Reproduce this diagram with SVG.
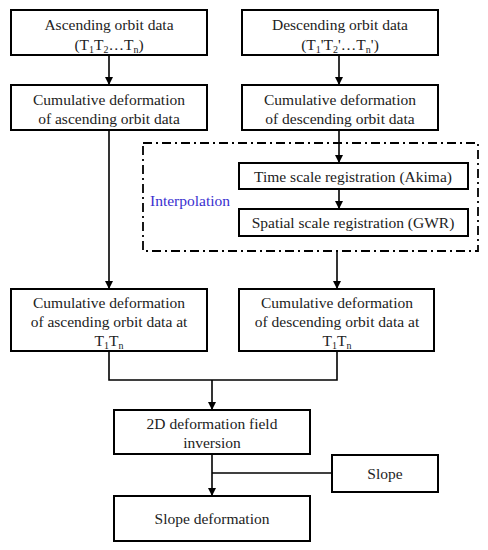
<svg xmlns="http://www.w3.org/2000/svg" width="488" height="550" viewBox="0 0 488 550">
<style>
.box{fill:#fff;stroke:#000;stroke-width:2}
.t{font-family:'Liberation Serif','Times New Roman','DejaVu Serif',serif;font-size:15.5px;fill:#222;text-anchor:middle}
.s{font-size:10px}
.ln{fill:none;stroke:#000;stroke-width:1.6}
</style>
<defs>
<marker id="ah" markerWidth="8" markerHeight="8" refX="7" refY="4" orient="auto" markerUnits="userSpaceOnUse">
<path d="M0,0 L8,4 L0,8 Z" fill="#000"/>
</marker>
</defs>
<rect width="488" height="550" fill="#fff"/>
<g id="interp">
<rect x="143" y="143" width="335" height="108" fill="none" stroke="#000" stroke-width="1.8" stroke-dasharray="9,4,2,4"/>
<text x="150" y="206" style="font-family:'Liberation Serif','Times New Roman','DejaVu Serif',serif;font-size:15.5px;fill:#3a2fd0">Interpolation</text>
</g>
<g id="connectors">
<line class="ln" x1="109" y1="55" x2="109" y2="84" marker-end="url(#ah)"/>
<line class="ln" x1="339" y1="55" x2="339" y2="84" marker-end="url(#ah)"/>
<line class="ln" x1="339" y1="130" x2="339" y2="162" marker-end="url(#ah)"/>
<line class="ln" x1="339" y1="189" x2="339" y2="208" marker-end="url(#ah)"/>
<line class="ln" x1="109" y1="130" x2="109" y2="288" marker-end="url(#ah)"/>
<line class="ln" x1="337" y1="251" x2="337" y2="288" marker-end="url(#ah)"/>
<polyline class="ln" points="109,351 109,380 337,380 337,351"/>
<line class="ln" x1="212" y1="380" x2="212" y2="409" marker-end="url(#ah)"/>
<line class="ln" x1="212" y1="454" x2="212" y2="495" marker-end="url(#ah)"/>
<line class="ln" x1="212" y1="473" x2="332" y2="473"/>
</g>
<g id="asc">
<rect class="box" x="11" y="10" width="196" height="45"/>
<text class="t" x="109" y="30">Ascending orbit data</text>
<text class="t" x="109" y="50">(T<tspan class="s" dy="3">1</tspan><tspan dy="-3">T</tspan><tspan class="s" dy="3">2</tspan><tspan dy="-3">…T</tspan><tspan class="s" dy="3">n</tspan><tspan dy="-3">)</tspan></text>
</g>
<g id="desc">
<rect class="box" x="242" y="10" width="196" height="45"/>
<text class="t" x="340" y="30">Descending orbit data</text>
<text class="t" x="340" y="50">(T<tspan class="s" dy="3">1</tspan><tspan dy="-3">'T</tspan><tspan class="s" dy="3">2</tspan><tspan dy="-3">'…T</tspan><tspan class="s" dy="3">n</tspan><tspan dy="-3">')</tspan></text>
</g>
<g id="cumAsc">
<rect class="box" x="11" y="85" width="196" height="45"/>
<text class="t" x="109" y="105">Cumulative deformation</text>
<text class="t" x="109" y="124">of ascending orbit data</text>
</g>
<g id="cumDesc">
<rect class="box" x="242" y="85" width="196" height="45"/>
<text class="t" x="340" y="105">Cumulative deformation</text>
<text class="t" x="340" y="124">of descending orbit data</text>
</g>
<g id="time">
<rect class="box" x="239" y="163" width="229" height="26"/>
<text class="t" x="353" y="182">Time scale registration (Akima)</text>
</g>
<g id="spatial">
<rect class="box" x="239" y="209" width="229" height="27"/>
<text class="t" x="353" y="228">Spatial scale registration (GWR)</text>
</g>
<g id="cumAscT">
<rect class="box" x="11" y="289" width="196" height="62"/>
<text class="t" x="109" y="308">Cumulative deformation</text>
<text class="t" x="109" y="327">of ascending orbit data at</text>
<text class="t" x="109" y="346">T<tspan class="s" dy="3">1</tspan><tspan dy="-3">T</tspan><tspan class="s" dy="3">n</tspan></text>
</g>
<g id="cumDescT">
<rect class="box" x="239" y="289" width="195" height="62"/>
<text class="t" x="337" y="308">Cumulative deformation</text>
<text class="t" x="337" y="327">of descending orbit data at</text>
<text class="t" x="337" y="346">T<tspan class="s" dy="3">1</tspan><tspan dy="-3">T</tspan><tspan class="s" dy="3">n</tspan></text>
</g>
<g id="inv">
<rect class="box" x="114" y="410" width="196" height="44"/>
<text class="t" x="212" y="429">2D deformation field</text>
<text class="t" x="212" y="448">inversion</text>
</g>
<g id="slope">
<rect class="box" x="332" y="455" width="106" height="37"/>
<text class="t" x="385" y="479">Slope</text>
</g>
<g id="slopeDef">
<rect class="box" x="114" y="496" width="196" height="45"/>
<text class="t" x="212" y="524">Slope deformation</text>
</g>
</svg>
